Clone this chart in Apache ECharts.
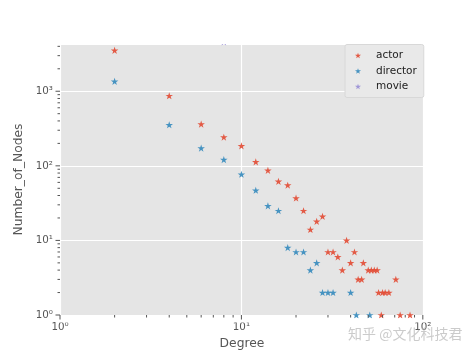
<!DOCTYPE html>
<html>
<head>
<meta charset="utf-8">
<script src="https://cdn.jsdelivr.net/npm/echarts@6/dist/echarts.min.js"></script>
<style>html,body{margin:0;padding:0;background:#fff}#c{width:474px;height:355px}</style>
</head>
<body>
<div id="c"></div>
<script>
// ---- data ----
const actorDegree = [2,4,6,8,10,12,14,16,18,20,22,24,26,28,30,32,34,36,38,40,42,44,46,47,50,52,54,56,57,60,62,65,59,71,75,85];
const actorCount  = [3530,870,363,242,185,113,87,62,55,37,25,14,18,21,7,7,6,4,10,5,7,3,3,5,4,4,4,4,2,2,2,2,1,3,1,1];
const directorDegree = [2,4,6,8,10,12,14,16,18,20,22,24,26,28,30,32,40,43,51];
const directorCount  = [1356,355,173,121,77,47,29,25,8,7,7,4,5,2,2,2,2,1,1];
const movieDegree = [8];
const movieCount  = [4600];
const xMajorTicks = [1,10,100];
const xMinorTicks = [2,3,4,5,6,7,8,9,20,30,40,50,60,70,80,90];
const yMajorTicks = [1,10,100,1000];
const yMinorTicks = [2,3,4,5,6,7,8,9,20,30,40,50,60,70,80,90,200,300,400,500,600,700,800,900,2000,3000,4000];
const xRange = [1, 101.5];
const yRange = [1, 4300];
const sup = {'0':'⁰','1':'¹','2':'²','3':'³'};

const STAR = 'path://M12,0 L14.69,8.29 L23.41,8.29 L16.36,13.42 L19.05,21.71 L12,16.58 L4.95,21.71 L7.64,13.42 L0.59,8.29 L9.31,8.29 Z';
const C_ACTOR = '#E24A33', C_DIR = '#348ABD', C_MOVIE = '#988ED5';
const TICK = '#555555';

function pts(xs, ys){ return xs.map((x,i)=>[x, ys[i]]); }
function fmt(v){
  const e = Math.log10(v), r = Math.round(e);
  if (Math.abs(e - r) > 1e-6) return '';
  return '10' + String(r).split('').map(c=>sup[c]||c).join('');
}
function tickSeries(vals, isX, len){
  return {
    type:'custom', silent:true, clip:false, z:5,
    data: vals.map(v => isX ? [v, yRange[0]] : [xRange[0], v]),
    renderItem: function(params, api){
      const p = api.coord([api.value(0), api.value(1)]);
      return {type:'line', shape: isX ? {x1:p[0], y1:p[1], x2:p[0], y2:p[1]+len}
                                      : {x1:p[0], y1:p[1], x2:p[0]-len, y2:p[1]},
              style:{stroke:TICK, lineWidth:1}};
    }
  };
}

const chart = echarts.init(document.getElementById('c'), null, {renderer:'canvas'});
chart.setOption({
  animation:false,
  grid:{left:60, top:44, width:364, height:274.5, show:true, backgroundColor:'#E5E5E5', borderWidth:0},
  xAxis:{type:'log', logBase:10, min:xRange[0], max:xRange[1],
    name:'Degree', nameLocation:'middle', nameGap:23,
    nameTextStyle:{fontFamily:'DejaVu Sans', fontSize:12.3, color:'#555'},
    axisLine:{show:false}, axisTick:{show:false},
    axisLabel:{formatter:fmt, fontFamily:'DejaVu Sans', fontSize:10.3, color:'#555', margin:7, showMaxLabel:false, hideOverlap:false},
    splitLine:{show:true, lineStyle:{color:'#ffffff', width:1.2}}},
  yAxis:{type:'log', logBase:10, min:yRange[0], max:yRange[1],
    name:'Number_of_Nodes', nameLocation:'middle', nameGap:29,
    nameTextStyle:{fontFamily:'DejaVu Sans', fontSize:12.3, color:'#555'},
    axisLine:{show:false}, axisTick:{show:false},
    axisLabel:{formatter:fmt, fontFamily:'DejaVu Sans', fontSize:10.3, color:'#555', margin:7, showMaxLabel:false},
    splitLine:{show:true, lineStyle:{color:'#ffffff', width:1.2}}},
  legend:{data:['actor','director','movie'], orient:'vertical', left:345, top:44.5,
    padding:[5,7,5,10], itemWidth:6, itemHeight:6, itemGap:3.5,
    backgroundColor:'#E9E9E9', borderColor:'#D8D8D8', borderWidth:1, borderRadius:2,
    textStyle:{fontFamily:'DejaVu Sans', fontSize:10.5, color:'#222', lineHeight:12, padding:[0,0,0,10]},
    icon:STAR},
  graphic:[
    {type:'rect', z:100, shape:{x:50, y:0, width:390, height:44}, style:{fill:'#ffffff'}},
    {type:'rect', z:3, shape:{x:60, y:318.5, width:366, height:4}, style:{fill:'#ffffff'}},
    {type:'text', z:101, left:348, top:327, style:{text:'知乎 @文化科技君', fontFamily:'Noto Sans CJK SC', fontSize:14, fill:'rgba(190,190,190,0.8)'}}
  ],
  series:[
    {name:'actor', type:'scatter', z:2, data:pts(actorDegree, actorCount), symbol:STAR, symbolSize:7.5, symbolKeepAspect:true, itemStyle:{color:C_ACTOR, opacity:0.9}},
    {name:'director', type:'scatter', z:2, data:pts(directorDegree, directorCount), symbol:STAR, symbolSize:7.5, symbolKeepAspect:true, itemStyle:{color:C_DIR, opacity:0.9}},
    {name:'movie', type:'scatter', z:2, clip:false, data:pts(movieDegree, movieCount), symbol:STAR, symbolSize:7.5, symbolKeepAspect:true, itemStyle:{color:C_MOVIE, opacity:0.9}},
    tickSeries(xMajorTicks, true, 4.5),
    tickSeries(xMinorTicks, true, 2.5),
    tickSeries(yMajorTicks, false, 4.5),
    tickSeries(yMinorTicks, false, 2.5)
  ]
});
</script>
</body>
</html>
